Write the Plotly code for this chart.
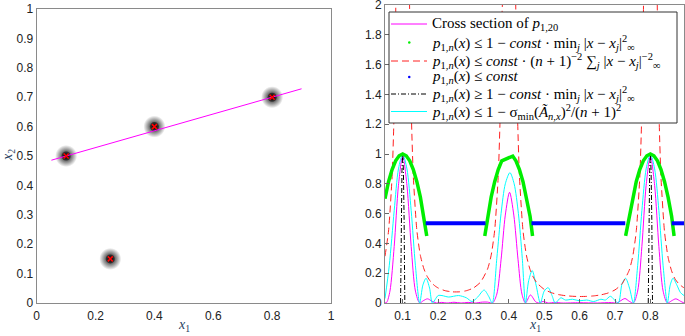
import plotly.graph_objects as go

# ---------------- data ----------------
node_x1 = [0.1, 0.25, 0.4, 0.8]
node_x2 = [0.5, 0.15, 0.6, 0.7]
section_x1 = [0.05, 0.9]
section_x2 = [0.4857, 0.7286]

mag_x = [0.05, 0.055, 0.064, 0.076, 0.088, 0.1, 0.112, 0.124, 0.136, 0.148, 0.158, 0.17, 0.183, 0.195,
         0.21, 0.225, 0.245, 0.265, 0.285, 0.305, 0.325, 0.34, 0.354, 0.366, 0.378, 0.39, 0.402, 0.414,
         0.426, 0.437, 0.447, 0.461, 0.475, 0.483, 0.497, 0.512, 0.53, 0.55, 0.6, 0.65, 0.69, 0.705,
         0.728, 0.74, 0.752, 0.764, 0.776, 0.788, 0.8, 0.812, 0.824, 0.836, 0.848, 0.86, 0.872, 0.885,
         0.895]
mag_y = [0.0, 0.005, 0.08, 0.38, 0.79, 0.99, 0.79, 0.38, 0.08, 0.0, 0.015, 0.028, 0.012, 0.0,
         0.004, 0.0, 0.005, 0.0, 0.004, 0.0, 0.006, 0.006, 0.0, 0.06, 0.29, 0.59, 0.743, 0.59,
         0.29, 0.06, 0.0, 0.054, 0.01, 0.0, 0.01, 0.0, 0.004, 0.0, 0.002, 0.0, 0.003, 0.0,
         0.03, 0.012, 0.0, 0.08, 0.38, 0.79, 0.99, 0.79, 0.38, 0.08, 0.0, 0.015, 0.028, 0.012,
         0.0]

cyan_x = [0.05, 0.062, 0.076, 0.088, 0.1, 0.112, 0.124, 0.136, 0.148, 0.157, 0.166, 0.176, 0.184,
          0.2, 0.211, 0.23, 0.258, 0.28, 0.296, 0.312, 0.33, 0.343, 0.353, 0.366, 0.378, 0.39,
          0.403, 0.415, 0.427, 0.438, 0.447, 0.456, 0.466, 0.477, 0.489, 0.5, 0.511, 0.522, 0.531,
          0.547, 0.56, 0.58, 0.6, 0.62, 0.64, 0.66, 0.673, 0.687, 0.709, 0.72, 0.73, 0.741, 0.752,
          0.764, 0.776, 0.788, 0.8, 0.812, 0.824, 0.836, 0.848, 0.856, 0.864, 0.875, 0.885, 0.895]
cyan_y = [0.03, 0.25, 0.62, 0.9, 1.0, 0.9, 0.62, 0.25, 0.0, 0.12, 0.166, 0.1, 0.0,
          0.05, 0.05, 0.04, 0.05, 0.035, 0.01, 0.04, 0.087, 0.045, 0.0, 0.3, 0.6, 0.8,
          0.875, 0.8, 0.6, 0.3, 0.0, 0.15, 0.218, 0.12, 0.0, 0.08, 0.103, 0.05, 0.0,
          0.035, 0.02, 0.025, 0.015, 0.02, 0.01, 0.025, 0.02, 0.045, 0.0, 0.13, 0.166, 0.1, 0.0,
          0.25, 0.62, 0.9, 1.0, 0.9, 0.62, 0.25, 0.0, 0.12, 0.166, 0.12, 0.07, 0.05]

red_x = [0.05, 0.06, 0.07, 0.075, 0.08, 0.085, None, 0.115, 0.118, 0.12, 0.125, 0.13, 0.14, 0.15, 0.16,
         0.17, 0.18, 0.19, 0.20, 0.22, 0.24, 0.26, 0.28, 0.30, 0.32, 0.34, 0.35, 0.36, 0.37, 0.375,
         0.38, 0.385, 0.39, 0.40, 0.411, 0.415, 0.42, 0.425, 0.43, 0.44, 0.45, 0.46, 0.47, 0.48,
         0.50, 0.52, 0.54, 0.56, 0.58, 0.60, 0.62, 0.64, 0.66, 0.68, 0.70, 0.72, 0.74, 0.75, 0.76,
         0.77, 0.775, 0.78, 0.785, None, 0.815, 0.82, 0.825, 0.83, 0.84, 0.85, 0.86, 0.87, 0.88,
         0.89, 0.90]
red_y = [0.314, 0.483, 0.848, 1.215, 1.89, 3.35, None, 3.35, 2.33, 1.89, 1.217, 0.851, 0.487, 0.319, 0.229,
         0.175, 0.140, 0.117, 0.101, 0.0825, 0.0749, 0.0749, 0.0826, 0.101, 0.140, 0.229, 0.32, 0.488, 0.852, 1.218,
         1.893, 2.19, 2.58, 3.68, 6.1, 3.35, 1.89, 1.217, 0.849, 0.485, 0.316, 0.224, 0.169, 0.133,
         0.0915, 0.0693, 0.0565, 0.0491, 0.0451, 0.0436, 0.0444, 0.0478, 0.0546, 0.0667, 0.088, 0.129, 0.219, 0.311, 0.479,
         0.843, 1.21, 1.885, 3.34, None, 3.34, 1.883, 1.208, 0.841, 0.476, 0.307, 0.215, 0.16, 0.13,
         0.11, 0.095]

green_x = [0.05, 0.06, 0.07, 0.08, 0.09, 0.10, 0.11, 0.12, 0.13, 0.14, 0.15, 0.16, 0.168, None,
           0.332, 0.34, 0.35, 0.36, 0.37, 0.38, 0.39, 0.40, 0.411, 0.42, 0.43, 0.44, 0.45, 0.46, 0.467, None,
           0.73, 0.74, 0.75, 0.76, 0.77, 0.78, 0.79, 0.80, 0.81, 0.82, 0.83, 0.84, 0.85, 0.86, 0.867]
green_y = [0.70, 0.814, 0.896, 0.954, 0.988, 1.0, 0.988, 0.954, 0.896, 0.814, 0.71, 0.582, 0.45, None,
           0.45, 0.582, 0.71, 0.814, 0.896, 0.954, 0.966, 0.976, 0.986, 0.954, 0.896, 0.814, 0.71, 0.582, 0.45, None,
           0.45, 0.582, 0.71, 0.814, 0.896, 0.954, 0.988, 1.0, 0.988, 0.954, 0.896, 0.814, 0.71, 0.582, 0.45]

blue_x = [0.165, 0.334, None, 0.464, 0.729, None, 0.86, 0.895]
blue_y = [0.535, 0.535, None, 0.535, 0.535, None, 0.535, 0.535]

black_x = [0.094, 0.096, 0.098, 0.1, 0.102, 0.104, 0.106, None,
           0.794, 0.796, 0.798, 0.8, 0.802, 0.804, 0.806]
black_y = [0.0, 0.56, 0.89, 1.0, 0.89, 0.56, 0.0, None,
           0.0, 0.56, 0.89, 1.0, 0.89, 0.56, 0.0]

left_ticks_x = [0, 0.2, 0.4, 0.6, 0.8, 1]
left_ticks_y = [0, 0.1, 0.2, 0.3, 0.4, 0.5, 0.6, 0.7, 0.8, 0.9, 1]
right_ticks_x = [0.1, 0.2, 0.3, 0.4, 0.5, 0.6, 0.7, 0.8]
right_ticks_y = [0, 0.2, 0.4, 0.6, 0.8, 1, 1.2, 1.4, 1.6, 1.8, 2]

legend_labels = [
    "Cross section of <i>p</i><sub>1,20</sub>",
    "<i>p</i><sub>1,<i>n</i></sub>(<i>x</i>) ≤ 1 − <i>const</i> · min<sub><i>j</i></sub> |<i>x</i> − <i>x</i><sub><i>j</i></sub>|<sup>2</sup><sub>∞</sub>",
    "<i>p</i><sub>1,<i>n</i></sub>(<i>x</i>) ≤ <i>const</i> · (<i>n</i> + 1)<sup>−2</sup> ∑<sub><i>j</i></sub> |<i>x</i> − <i>x</i><sub><i>j</i></sub>|<sup>−2</sup><sub>∞</sub>",
    "<i>p</i><sub>1,<i>n</i></sub>(<i>x</i>) ≤ <i>const</i>",
    "<i>p</i><sub>1,<i>n</i></sub>(<i>x</i>) ≥ 1 − <i>const</i> · min<sub><i>j</i></sub> |<i>x</i> − <i>x</i><sub><i>j</i></sub>|<sup>2</sup><sub>∞</sub>",
    "<i>p</i><sub>1,<i>n</i></sub>(<i>x</i>) ≤ 1 − σ<sub>min</sub>(<i>Ã</i><sub><i>n</i>,<i>x</i></sub>)<sup>2</sup>/(<i>n</i> + 1)<sup>2</sup>",
]

# ---------------- figure ----------------
W, H = 685, 336
SERIF = "Liberation Serif, DejaVu Serif, serif"
SANS = "Liberation Sans, Arial, sans-serif"


def px(xp):
    return xp / W


def py(yp):
    return 1 - yp / H


fig = go.Figure()

# left panel: blurred peaks (radial gradient: gradient.color = centre, marker.color = rim)
fig.add_trace(go.Scatter(x=node_x1, y=node_x2, mode="markers", showlegend=False, hoverinfo="skip",
                         marker=dict(size=22, color="rgb(255,255,255)",
                                     gradient=dict(type="radial", color="rgb(0,0,0)"),
                                     line=dict(width=0)),
                         xaxis="x", yaxis="y"))
fig.add_trace(go.Scatter(x=node_x1, y=node_x2, mode="markers", showlegend=False, hoverinfo="skip",
                         marker=dict(size=9, color="rgb(55,55,55)",
                                     gradient=dict(type="radial", color="rgb(0,0,0)"),
                                     line=dict(width=0)),
                         xaxis="x", yaxis="y"))
fig.add_trace(go.Scatter(x=section_x1, y=section_x2, mode="lines", showlegend=False,
                         line=dict(color="#ff00ff", width=1), xaxis="x", yaxis="y"))
fig.add_trace(go.Scatter(x=node_x1, y=node_x2, mode="markers", showlegend=False,
                         marker=dict(symbol="x-thin", size=5, line=dict(color="red", width=1.5)),
                         xaxis="x", yaxis="y"))

# right panel
fig.add_trace(go.Scatter(x=mag_x, y=mag_y, mode="lines", showlegend=False,
                         line=dict(color="#ff00ff", width=1, shape="spline", smoothing=0.8),
                         xaxis="x2", yaxis="y2"))
fig.add_trace(go.Scatter(x=cyan_x, y=cyan_y, mode="lines", showlegend=False,
                         line=dict(color="#00ffff", width=1, shape="spline", smoothing=0.8),
                         xaxis="x2", yaxis="y2"))
fig.add_trace(go.Scatter(x=red_x, y=red_y, mode="lines", showlegend=False,
                         line=dict(color="#ff2020", width=1, dash="7px,4px", shape="spline", smoothing=0.6),
                         xaxis="x2", yaxis="y2"))
fig.add_trace(go.Scatter(x=black_x, y=black_y, mode="lines", showlegend=False,
                         line=dict(color="black", width=1, dash="5px,2px,1px,2px"),
                         xaxis="x2", yaxis="y2"))
fig.add_trace(go.Scatter(x=green_x, y=green_y, mode="lines", showlegend=False,
                         line=dict(color="#00ee00", width=3.5), xaxis="x2", yaxis="y2"))
fig.add_trace(go.Scatter(x=blue_x, y=blue_y, mode="lines", showlegend=False,
                         line=dict(color="#0000ff", width=4), xaxis="x2", yaxis="y2"))

axis_common = dict(showgrid=False, zeroline=False, showline=True, mirror=True, automargin=False,
                   linecolor="#8a8a8a", linewidth=1, ticklabeloverflow="allow",
                   tickfont=dict(family=SANS, size=12, color="#222"))

# ---------- hand-drawn legend box (MATLAB style) ----------
LX0, LY0, LX1, LY1 = 389, 12, 677, 123
row_y = [24, 42.5, 61, 77, 94, 111.5]
shapes = [dict(type="rect", xref="paper", yref="paper", x0=px(LX0), x1=px(LX1), y0=py(LY1), y1=py(LY0),
               fillcolor="white", line=dict(color="#333", width=1), layer="above")]
sample_styles = [
    ("line", "#ff00ff", "solid"),
    ("dot", "#00ee00", None),
    ("line", "#ff2020", "7px,4px"),
    ("dot", "#0000ff", None),
    ("line", "black", "5px,2px,1px,2px"),
    ("line", "#00ffff", "solid"),
]
annotations = []
for (kind, col, dash), yy, lab in zip(sample_styles, row_y, legend_labels):
    if kind == "line":
        shapes.append(dict(type="line", xref="paper", yref="paper", x0=px(391), x1=px(427),
                           y0=py(yy), y1=py(yy), line=dict(color=col, width=1, dash=dash), layer="above"))
    else:
        shapes.append(dict(type="circle", xref="paper", yref="paper", x0=px(408), x1=px(410.5),
                           y0=py(yy + 1.25), y1=py(yy - 1.25), fillcolor=col, line=dict(color=col, width=0),
                           layer="above"))
    annotations.append(dict(text=lab, x=px(430), y=py(yy), xref="paper", yref="paper", showarrow=False,
                            xanchor="left", yanchor="middle", font=dict(family=SERIF, size=15, color="black")))

annotations += [
    dict(text="<i>x</i><sub>1</sub>", x=px((36.7 + 331) / 2), y=0, xref="paper", yref="paper",
         showarrow=False, font=dict(family=SERIF, size=14), xanchor="center", yanchor="bottom"),
    dict(text="<i>x</i><sub>2</sub>", x=px(8), y=py(155), xref="paper", yref="paper",
         showarrow=False, textangle=-90, font=dict(family=SERIF, size=14), xanchor="center", yanchor="middle"),
    dict(text="<i>x</i><sub>1</sub>", x=px((385 + 684) / 2), y=0, xref="paper", yref="paper",
         showarrow=False, font=dict(family=SERIF, size=14), xanchor="center", yanchor="bottom"),
]

fig.update_layout(
    width=W, height=H,
    margin=dict(l=0, r=0, t=0, b=0, autoexpand=False),
    paper_bgcolor="white", plot_bgcolor="white",
    showlegend=False,
    xaxis=dict(domain=[36.7 / W, 331 / W], range=[0, 1], tickvals=left_ticks_x, ticks="",
               ticklabelstandoff=2, anchor="y", **axis_common),
    yaxis=dict(domain=[33 / H, 327 / H], range=[0, 1], tickvals=left_ticks_y, ticks="",
               anchor="x", **axis_common),
    xaxis2=dict(domain=[385 / W, 684 / W], range=[0.05, 0.895], tickvals=right_ticks_x,
                ticks="inside", ticklen=4, tickcolor="#666", ticklabelstandoff=2,
                anchor="y2", **axis_common),
    yaxis2=dict(domain=[33 / H, 331 / H], range=[0, 2], tickvals=right_ticks_y,
                ticks="inside", ticklen=4, tickcolor="#666", anchor="x2", **axis_common),
    shapes=shapes,
    annotations=annotations,
)

fig.write_html("out.html", config={"displayModeBar": False},
               post_script="document.body.style.margin='0';document.body.style.overflow='hidden';")
